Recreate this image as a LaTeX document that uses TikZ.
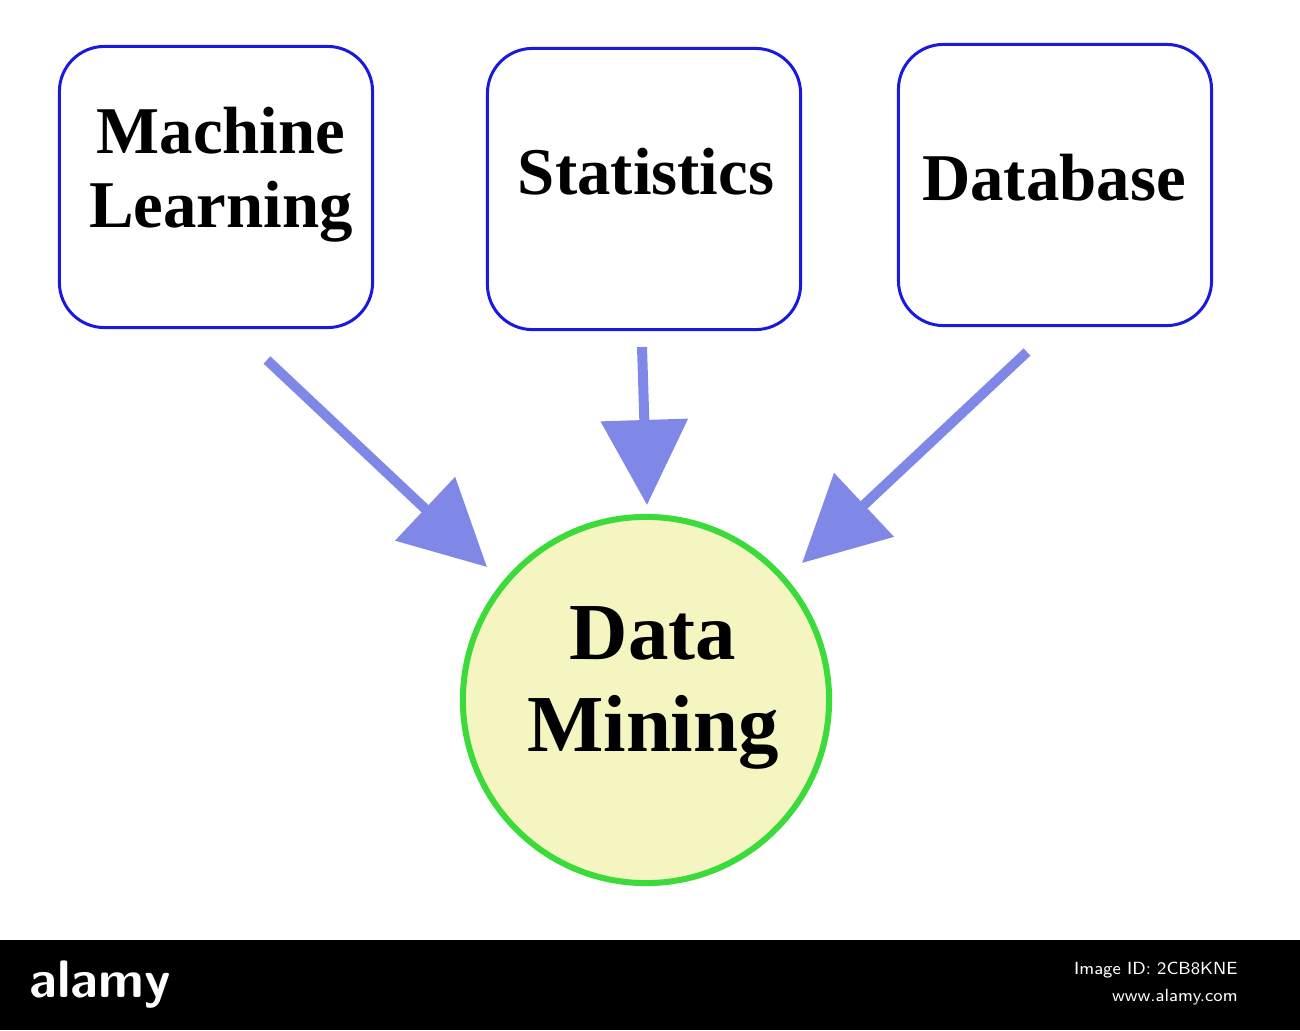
\documentclass[tikz,border=0pt]{standalone}
\usepackage{fontspec}
\setmainfont{Liberation Serif}
\usetikzlibrary{arrows.meta}
\definecolor{bbl}{HTML}{1A1ADC}
\definecolor{arr}{HTML}{7F88E6}
\definecolor{grn}{HTML}{3ADB3A}
\definecolor{fillc}{HTML}{F5F5C2}
\begin{document}
\begin{tikzpicture}[x=0.01cm,y=-0.01cm,
 box/.style={draw=bbl,line width=0.03cm,rounded corners=0.45cm,minimum width=3.13cm,minimum height=2.81cm},
 lbl/.style={font=\fontsize{19}{21}\selectfont\bfseries,align=center},
 conn/.style={draw=arr,line width=0.1cm,-{Triangle[length=0.85cm,width=0.85cm]}}]
\useasboundingbox (0,0) rectangle (1300,1030);
\node[box] (ml) at (216,187) {};
\node[box] (st) at (644,189) {};
\node[box] (db) at (1055,185) {};
\node[lbl] (mlt) at (221,175) {Machine\\Learning};
\node[lbl] (stt) at (646,172) {Statistics};
\node[lbl] (dbt) at (1054,178) {Database};
\node[circle,draw=grn,fill=fillc,line width=0.06cm,minimum size=3.66cm] (dm) at (646,700) {};
\node[font=\fontsize{23}{26}\selectfont\bfseries,align=center] (dmt) at (653,688) {Data\\Mining};
\coordinate (a1) at (267,360); \coordinate (b1) at (487,567);
\coordinate (a2) at (642,347); \coordinate (b2) at (647,505);
\coordinate (a3) at (1027,352); \coordinate (b3) at (802,563);
\draw[conn] (a1) -- (b1);
\draw[conn] (a2) -- (b2);
\draw[conn] (a3) -- (b3);
\fill[black] (0,940) rectangle (1300,1030);
\node[text=white,font=\fontsize{15}{15}\selectfont\sffamily\bfseries] (al) at (100,985) {alamy};
\node[text=white,anchor=east,font=\fontsize{5}{6}\selectfont\sffamily] (id) at (1250,970) {Image ID: 2CB8KNE};
\node[text=white,anchor=east,font=\fontsize{5}{6}\selectfont\sffamily] (www) at (1250,997) {www.alamy.com};
\end{tikzpicture}
\end{document}
